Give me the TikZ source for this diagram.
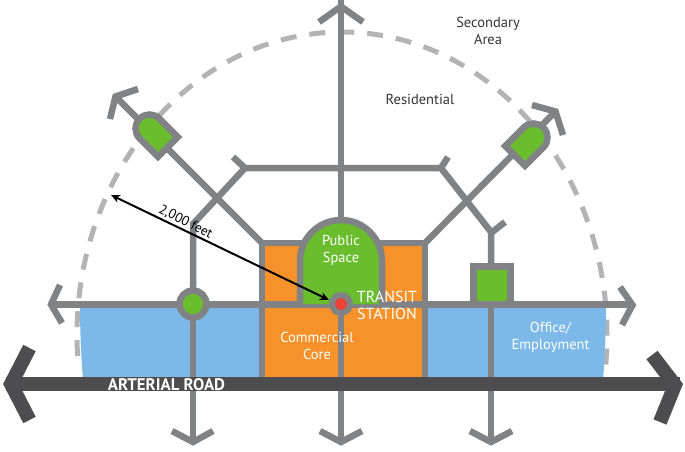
\documentclass[tikz,border=0pt]{standalone}
\usepackage{fontspec}
\setmainfont{PT Sans}
\usetikzlibrary{arrows.meta}

\definecolor{roadgray}{HTML}{808285}
\definecolor{arterialgray}{HTML}{4D4D4F}
\definecolor{dashgray}{HTML}{B3B3B3}
\definecolor{coreorange}{HTML}{F7922A}
\definecolor{parkgreen}{HTML}{6ABD2D}
\definecolor{officeblue}{HTML}{7DB9E8}
\definecolor{stationred}{HTML}{EF4136}

\tikzset{
  road/.style={draw=roadgray,line width=6.5pt,miter limit=10},
  arterial/.style={draw=arterialgray,line width=14pt,miter limit=10},
  whitelabel/.style={text=white,align=center,font=\fontsize{14.5}{17}\selectfont},
  darklabel/.style={text=black!80,align=center,font=\fontsize{14.5}{17}\selectfont},
}

\begin{document}
\begin{tikzpicture}[x=1pt,y=-1pt]
        \useasboundingbox (0,0) rectangle (685,451);

        % Secondary area limit
        \draw[dashgray,line width=5pt,dash pattern=on 16pt off 13pt]
            (342,335) ++(176:265 and 303) arc[start angle=176,end angle=367,x radius=265,y radius=303];

        % Land use blocks
        \fill[officeblue] (80,304) .. controls (80,330) and (81,355) .. (83,380) -- (430,380) -- (430,304) -- cycle;
        \fill[officeblue] (425,304) -- (606,304) .. controls (606,330) and (605,355) .. (603,380) -- (425,380) -- cycle;
        \fill[coreorange] (262,243) rectangle (425,380);

        % Collector streets
        \draw[road] (341,0) -- (341,220);
        \draw[road] (341,304) -- (341,442);
        \draw[road] (193,304) -- (193,442);
        \draw[road] (491,304) -- (491,442);
        \draw[road] (51,304.5) -- (632,304.5);
        \draw[road] (262,380) -- (262,243) -- (425,243) -- (425,380);

        % Public space
        \filldraw[road,fill=parkgreen] (300,304) -- (300,261) arc[start angle=180,end angle=360,radius=41] -- (382,304);

        % Diagonals and upper loop
        \draw[road] (115.5,96.5) -- (262,243);
        \draw[road] (425,243) -- (555.5,111.5);
        \draw[road] (193,304) -- (193,224) -- (245,168) -- (441,168) -- (491,232) -- (491,264);
        \draw[road] (233,157) -- (245,168);
        \draw[road] (448,157) -- (441,168);
        \draw[road] (505,222) -- (491,233);

        % Arrow heads
        \foreach \ax/\ay/\bx/\by/\cx/\cy in {
            60/285/51/304.5/62/323,
            620/287/632.5/305/622/325,
            172/431/193/442/213/431,
            320/431/341/442/362/431,
            470/431/491/442/512/431,
            319/22/341/6.5/363/22,
            138/89/115.5/96.5/110/119,
            532/105/555.5/111.5/563/135} {
          \draw[road] (\ax,\ay) -- (\bx,\by) -- (\cx,\cy);
        }

        % Parking nodes
        \foreach \px/\py/\ang in {170/149/45,513/158/-45} {
          \begin{scope}[shift={(\px,\py)},rotate=\ang]
            \filldraw[road,fill=parkgreen] (-14,-3) -- (-14,-29) arc[start angle=180,end angle=360,radius=14] -- (14,-3) -- cycle;
          \end{scope}
        }
        \filldraw[road,fill=parkgreen] (473.5,266.5) rectangle (510.5,304.5);

        % Nodes on the collector
        \filldraw[road,fill=parkgreen] (193,304) circle (13.5);
        \filldraw[draw=roadgray,line width=6pt,fill=stationred] (341,304) circle (9);

        % Arterial road
        \draw[arterial] (6,384) -- (680,384);
        \draw[arterial] (29.5,348) -- (11,384) -- (29.5,420);
        \draw[arterial] (652,355) -- (675,385) -- (660,422);
        \node[text=white,font=\bfseries\fontsize{16.8}{18}\selectfont] (arterialtext) at (166.5,384.5) {ARTERIAL ROAD};

        % Radius
        \coordinate (edge) at (111,195);
        \coordinate (station) at (329,300);
        \draw[black,line width=2pt,{Stealth[length=9pt,width=8pt]}-{Stealth[length=9pt,width=8pt]}] (edge) -- (station);
        \node[font=\fontsize{13.5}{15}\selectfont,rotate=-27] (radiustext) at (185.5,222) {2,000 feet};

        % Labels
        \node[darklabel] (secondary) at (488,31) {Secondary\\Area};
        \node[darklabel] (residential) at (420,99) {Residential};
        \node[whitelabel] (public) at (341,250) {Public\\Space};
        \node[whitelabel] (commercial) at (317,345.5) {Commercial\\Core};
        \node[whitelabel] (office) at (550.5,337) {Office/\\Employment};
        \node[whitelabel,font=\fontsize{16}{17}\selectfont] (transit) at (387,305) {TRANSIT\\STATION};
\end{tikzpicture}
\end{document}
